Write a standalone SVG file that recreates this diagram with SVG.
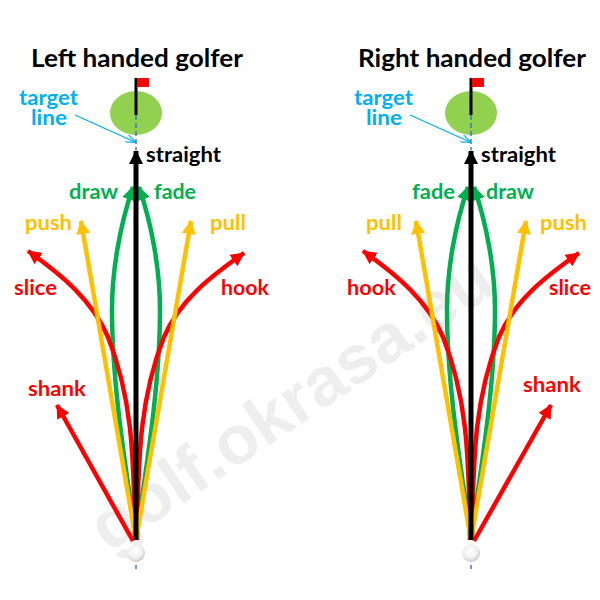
<svg xmlns="http://www.w3.org/2000/svg" width="600" height="600" viewBox="0 0 600 600">
<style>
text{font-family:Lato,"Liberation Sans",sans-serif;font-weight:700;text-anchor:middle}
.title{font-size:24px;fill:#000}
.lb{font-size:20px}
.tl{font-size:21px;fill:#00b0f0}
.k{fill:#000}.g{fill:#00b050}.y{fill:#ffc000}.r{fill:#ff0000}
.c{fill:none;stroke-width:4.5}
.cr{stroke:#ff0000;marker-end:url(#mr)}
.cy{stroke:#ffc000;marker-end:url(#my)}
.cg{stroke:#00b050;marker-end:url(#mg)}
.ck{stroke:#000;stroke-width:5;marker-end:url(#mk)}
.dash{stroke:#4472c4;stroke-width:1.5;stroke-dasharray:5 3;fill:none}
.pole{stroke:#000;stroke-width:3}
.tarrow{stroke:#00b0f0;stroke-width:1.3;fill:none;marker-end:url(#mb)}
</style>
<defs>
<marker id="mr" markerUnits="userSpaceOnUse" viewBox="0 0 14 14" refX="13" refY="7" markerWidth="14" markerHeight="14" orient="auto"><path d="M0 0L14 7L0 14Z" fill="#ff0000"/></marker>
<marker id="my" markerUnits="userSpaceOnUse" viewBox="0 0 14 14" refX="13" refY="7" markerWidth="14" markerHeight="14" orient="auto"><path d="M0 0L14 7L0 14Z" fill="#ffc000"/></marker>
<marker id="mg" markerUnits="userSpaceOnUse" viewBox="0 0 14 14" refX="13" refY="7" markerWidth="14" markerHeight="14" orient="auto"><path d="M0 0L14 7L0 14Z" fill="#00b050"/></marker>
<marker id="mk" markerUnits="userSpaceOnUse" viewBox="0 0 14 14" refX="13" refY="7" markerWidth="14" markerHeight="14" orient="auto"><path d="M0 0L14 7L0 14Z" fill="#000"/></marker>
<marker id="mb" markerUnits="userSpaceOnUse" viewBox="0 0 10 8" refX="9" refY="4" markerWidth="10" markerHeight="8" orient="auto"><path d="M0 0L10 4L0 8" fill="none" stroke="#00b0f0" stroke-width="1.2"/></marker>
<radialGradient id="ball" cx="0.45" cy="0.4" r="0.65"><stop offset="0" stop-color="#fff"/><stop offset="0.6" stop-color="#f0f0f0"/><stop offset="1" stop-color="#bdbdbd"/></radialGradient>
<g id="curves">
<path class="c cg" d="M136 540C128 480 112 390 112 310C112 270 120 225 133 187"/>
<path class="c cg" d="M136 540C144 480 160 390 160 310C160 270 152 225 139 187"/>
<path class="c cr" d="M135 540C134 450 131 395 108 337C92 300 62 275 28 251"/>
<path class="c cr" d="M137 540C138 450 141 395 164 337C180 300 210 277 244 253"/>
<path class="c cy" d="M136 540L81 221"/>
<path class="c cy" d="M136 540L191 221"/>
<path class="c ck" d="M136 540V151"/>
</g>
</defs>
<text id="watermark" x="304" y="422" transform="rotate(-34 304 422)" style="font-size:68px;fill:#eeeeee;font-family:'Liberation Sans',sans-serif" textLength="470" lengthAdjust="spacingAndGlyphs">golf.okrasa.eu</text>
<g id="left-flag">
<ellipse cx="136" cy="113" rx="26" ry="22" fill="#92d050"/>
<line class="dash" x1="136" y1="115" x2="136" y2="150"/>
<line class="pole" x1="136" y1="78" x2="136" y2="115"/>
<rect x="137" y="78" width="12" height="9" fill="#ff0000"/>
</g>
<g id="right-flag">
<ellipse cx="471" cy="113" rx="26" ry="22" fill="#92d050"/>
<line class="dash" x1="471" y1="115" x2="471" y2="150"/>
<line class="pole" x1="471" y1="78" x2="471" y2="115"/>
<rect x="472" y="78" width="12" height="9" fill="#ff0000"/>
</g>
<g id="connectors">
<path class="c cr" d="M133 541L57 405"/>
<use href="#curves"/>
<path class="tarrow" d="M75 115L135 142"/>
<path class="c cr" d="M474 541L551 405"/>
<use href="#curves" x="335"/>
<path class="tarrow" d="M410 115L470 142"/>
</g>
<g id="left-ball"><circle cx="136" cy="553" r="9" fill="url(#ball)"/><line class="dash" x1="136" y1="565" x2="136" y2="569"/></g>
<g id="right-ball"><circle cx="471" cy="553" r="9" fill="url(#ball)"/><line class="dash" x1="471" y1="565" x2="471" y2="569"/></g>
<g id="left-labels">
<text class="title" x="137" y="67" textLength="212" lengthAdjust="spacingAndGlyphs">Left handed golfer</text>
<text class="tl" x="48.500" y="105" textLength="59" lengthAdjust="spacingAndGlyphs">target</text>
<text class="tl" x="49" y="125" textLength="36" lengthAdjust="spacingAndGlyphs">line</text>
<text class="lb k" x="183.500" y="162" textLength="75" lengthAdjust="spacingAndGlyphs">straight</text>
<text class="lb g" x="93.500" y="199" textLength="49" lengthAdjust="spacingAndGlyphs">draw</text>
<text class="lb g" x="175" y="199" textLength="42" lengthAdjust="spacingAndGlyphs">fade</text>
<text class="lb y" x="48.500" y="230" textLength="47" lengthAdjust="spacingAndGlyphs">push</text>
<text class="lb y" x="228" y="230" textLength="36" lengthAdjust="spacingAndGlyphs">pull</text>
<text class="lb r" x="35.500" y="295" textLength="43" lengthAdjust="spacingAndGlyphs">slice</text>
<text class="lb r" x="245" y="295" textLength="48" lengthAdjust="spacingAndGlyphs">hook</text>
<text class="lb r" x="57" y="396" textLength="58" lengthAdjust="spacingAndGlyphs">shank</text>
</g>
<g id="right-labels">
<text class="title" x="472" y="67" textLength="228" lengthAdjust="spacingAndGlyphs">Right handed golfer</text>
<text class="tl" x="383.500" y="105" textLength="59" lengthAdjust="spacingAndGlyphs">target</text>
<text class="tl" x="384" y="125" textLength="36" lengthAdjust="spacingAndGlyphs">line</text>
<text class="lb k" x="518.500" y="162" textLength="75" lengthAdjust="spacingAndGlyphs">straight</text>
<text class="lb g" x="433.500" y="199" textLength="43" lengthAdjust="spacingAndGlyphs">fade</text>
<text class="lb g" x="510" y="199" textLength="48" lengthAdjust="spacingAndGlyphs">draw</text>
<text class="lb y" x="384" y="230" textLength="36" lengthAdjust="spacingAndGlyphs">pull</text>
<text class="lb y" x="563.500" y="230" textLength="47" lengthAdjust="spacingAndGlyphs">push</text>
<text class="lb r" x="371.500" y="295" textLength="49" lengthAdjust="spacingAndGlyphs">hook</text>
<text class="lb r" x="570" y="295" textLength="42" lengthAdjust="spacingAndGlyphs">slice</text>
<text class="lb r" x="552" y="392" textLength="58" lengthAdjust="spacingAndGlyphs">shank</text>
</g>
</svg>
